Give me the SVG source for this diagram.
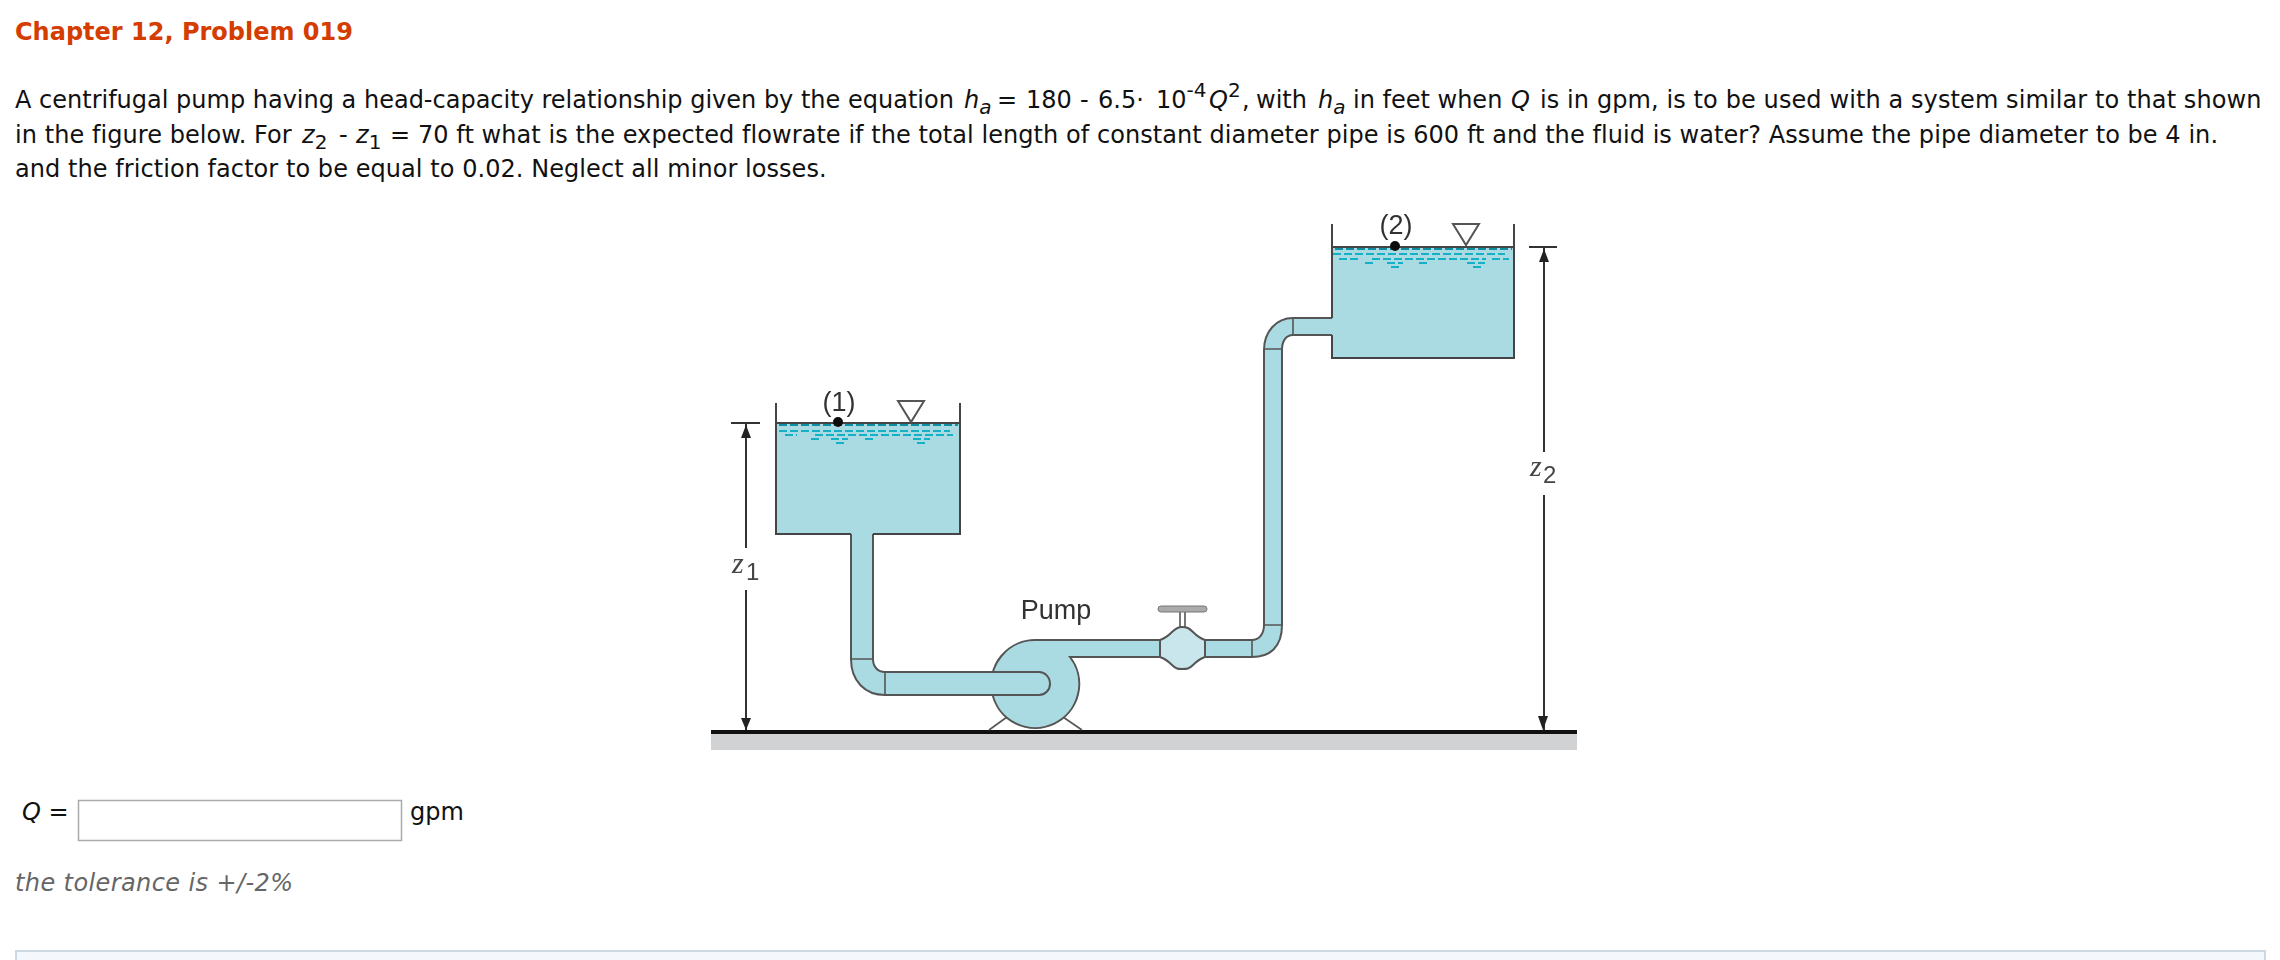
<svg xmlns="http://www.w3.org/2000/svg" width="2280" height="960" viewBox="0 0 2280 960">
<defs><filter id="soft" x="-2%" y="-2%" width="104%" height="104%"><feGaussianBlur stdDeviation="0.55"/></filter></defs>
<style>
text{font-family:"DejaVu Sans",Verdana,sans-serif;font-size:24px;fill:#111}
.q{letter-spacing:.06px}
.w{letter-spacing:.1px}
.i{font-style:italic}
.s{font-size:20px}
.fig{font-family:"Liberation Sans",Arial,sans-serif;fill:#333;font-size:27px}
.zz{font-family:"Liberation Serif",serif;font-style:italic;fill:#444;font-size:30px}
.zs{font-family:"Liberation Sans",sans-serif;fill:#444;font-size:24px}
.water{fill:#aadae2}
.pipe{fill:#aadae2;stroke:#555;stroke-width:2}
.ln{fill:none;stroke:#444;stroke-width:2}
.thin{fill:none;stroke:#555;stroke-width:1.6}
.dash{stroke:#19b0c6;stroke-width:2;stroke-dasharray:8 3;fill:none}
.surf{stroke:#0b8ea3;stroke-width:2;stroke-dasharray:8 3;fill:none}
.tri{fill:#fff;stroke:#555;stroke-width:2}
.dim{stroke:#333;stroke-width:2;fill:none}
.head{fill:#222}
</style>
<rect width="2280" height="960" fill="#fff"/>
<g id="question">
<text x="15" y="40" style="font-weight:bold;fill:#d43c00">Chapter 12, Problem 019</text>
<text x="15" y="108">A centrifugal pump having a head-capacity relationship given by the equation <tspan class="i" x="964">h</tspan><tspan class="i s" dy="6">a</tspan><tspan x="997" dy="-6">=</tspan><tspan x="1026">180</tspan><tspan x="1080">-</tspan><tspan x="1098">6.5·</tspan><tspan x="1156">10</tspan><tspan class="s" dy="-11">-4</tspan><tspan class="i" x="1209" dy="11">Q</tspan><tspan class="s" dy="-11">2</tspan><tspan x="1242" dy="11">,</tspan><tspan x="1256">with</tspan><tspan class="i" x="1318">h</tspan><tspan class="i s" dy="6">a</tspan><tspan x="1353" dy="-6">in feet when</tspan><tspan class="i" x="1511">Q</tspan><tspan class="w" x="1540">is in gpm, is to be used with a system similar to that shown</tspan></text>
<text class="q" x="15" y="143">in the figure below. For <tspan class="i" x="302">z</tspan><tspan class="s" dy="6">2</tspan><tspan x="339" dy="-6">-</tspan><tspan class="i" x="356">z</tspan><tspan class="s" dy="6">1</tspan><tspan x="390" dy="-6">=</tspan><tspan x="418">70 ft what is the expected flowrate if the total length of constant diameter pipe is 600 ft and the fluid is water? Assume the pipe diameter to be 4 in.</tspan></text>
<text class="q" x="15" y="177">and the friction factor to be equal to 0.02. Neglect all minor losses.</text>
</g>
<g id="ground">
<rect x="711" y="733" width="866" height="17" fill="#d1d2d4"/>
<rect x="711" y="730" width="866" height="4" fill="#111"/>
</g>
<g filter="url(#soft)">
<g id="pump">
<path class="thin" d="M1007 717L989 730M1063 717L1082 730"/>
<path class="pipe" d="M1036 640H1160V657H1070A44 44 0 1 1 1036 640Z"/>
<text class="fig" x="1056" y="619" text-anchor="middle">Pump</text>
</g>
<g id="connectors">
<path class="pipe" d="M851 534V659C851 681 865 695 885 695H1039C1045 695 1050 690 1050 684C1050 677 1045 672 1039 672H885C878 672 873 667 873 659V534"/>
<path class="pipe" d="M1334 318H1293C1276 318 1264 332 1264 350V625C1264 634 1259 640 1252 640H1205V657H1252C1270 657 1282 647 1282 625V350C1282 341 1286 335 1293 335H1334"/>
<path class="thin" d="M851 659H873M885 672V695M1252 640V657M1264 625H1282M1264 349H1282M1293 318V335"/>
</g>
<g id="tank-1">
<path class="water" d="M776 423H960V534H776Z"/>
<path class="ln" d="M776 403V534H851M873 534H960V403M776 423H960"/>
<path class="surf" d="M779 425H958"/>
<path class="dash" d="M779 431H950M785 435H797M815 435H953"/>
<path class="dash" d="M811 439H820M831 439H848M865 439H873M913 439H930M836 443H845M917 443H925"/>
<circle cx="838" cy="422" r="5" fill="#111"/>
<path class="tri" d="M898 401H924L911 422Z"/>
<text class="fig" x="839" y="411" text-anchor="middle">(1)</text>
</g>
<g id="tank-2">
<path class="water" d="M1332 247H1514V358H1332Z"/>
<path class="ln" d="M1332 224V318M1332 335V358H1514V224M1332 247H1514"/>
<path class="surf" d="M1335 249H1512"/>
<path class="dash" d="M1333 254H1505M1339 259H1359M1372 259H1486M1492 259H1509"/>
<path class="dash" d="M1365 263H1373M1387 263H1403M1419 263H1427M1467 263H1485M1391 267H1399M1473 267H1481"/>
<circle cx="1395" cy="246" r="5" fill="#111"/>
<path class="tri" d="M1453 224H1479L1466 245Z"/>
<text class="fig" x="1396" y="234" text-anchor="middle">(2)</text>
</g>
<g id="valve">
<path d="M1160 640C1166 638 1168 636 1172 632C1176 628 1178 627 1182 627C1187 627 1189 628 1193 632C1197 636 1199 638 1205 640V657C1199 659 1197 661 1193 665C1189 669 1187 669 1182 669C1178 669 1176 669 1172 665C1168 661 1166 659 1160 657Z" fill="#c8e6ec" stroke="#555" stroke-width="2"/>
<path d="M1180 612V627M1185 612V627" class="thin"/>
<rect x="1158" y="606" width="49" height="6" rx="3" fill="#aaa" stroke="#777"/>
</g>
<g id="dimensions">
<path class="dim" d="M731 423H760M746 423V548M746 590V730M1529 247H1557M1544 247V452M1544 495V730"/>
<path class="head" d="M741 438L746 425L751 438ZM741 718L746 730L751 718ZM1539 262L1544 249L1549 262ZM1538 716L1543 730L1548 716Z"/>
<text class="zz" x="732" y="573">z</text><text class="zs" x="746" y="580">1</text>
<text class="zz" x="1530" y="476">z</text><text class="zs" x="1543" y="483">2</text>
</g>
</g>
<g id="answer">
<text x="22" y="820"><tspan class="i">Q</tspan> =</text>
<rect x="78.500" y="800.500" width="323" height="40" fill="#fff" stroke="#aaa" stroke-width="1.500"/>
<text x="410" y="820">gpm</text>
<text class="i" x="15" y="891" style="fill:#666;letter-spacing:.4px">the tolerance is +/-2%</text>
<rect x="16" y="951" width="2249" height="20" fill="#f4f7fb" stroke="#cdd8e3" stroke-width="2"/>
</g>
</svg>
